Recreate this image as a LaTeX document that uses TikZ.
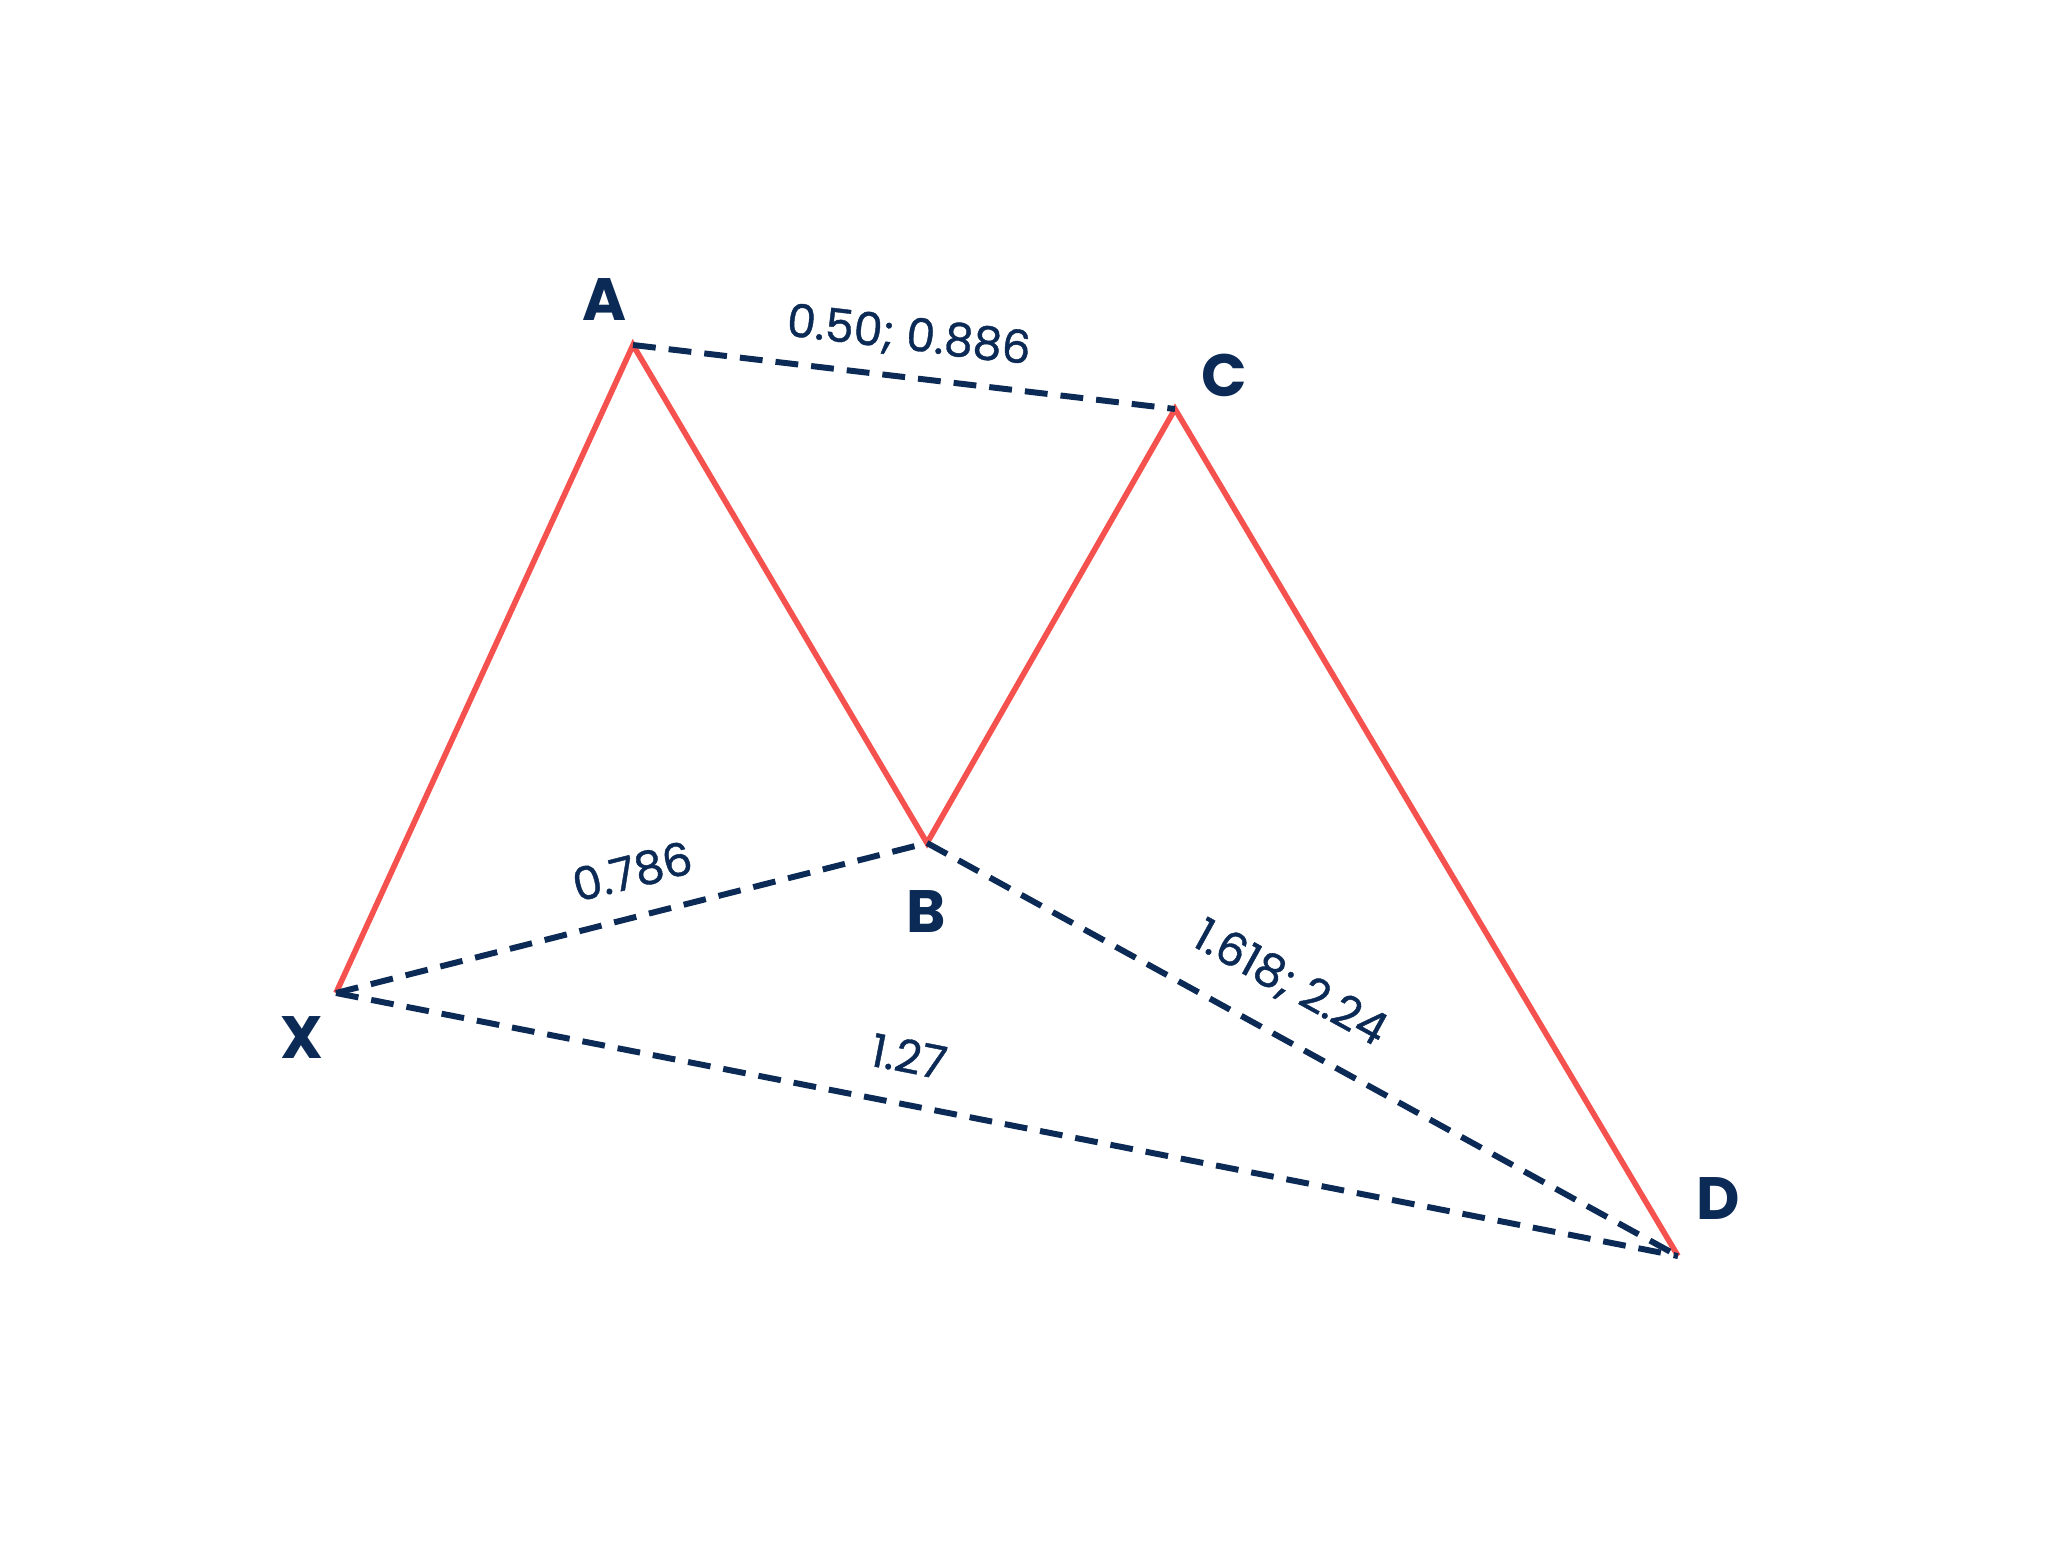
\documentclass[tikz,border=0pt]{standalone}
\usepackage{fontspec}
\setmainfont{Poppins}
\newfontfamily\ratiofont{Poppins}[FakeBold=0.9]
\definecolor{navy}{HTML}{0B2A55}
\definecolor{salmon}{HTML}{F5524F}
\begin{document}
\begin{tikzpicture}[x=0.01cm, y=-0.01cm,
  leg/.style={draw=salmon, line width=1.6pt, line join=miter},
  ratio/.style={draw=navy, line width=1.7pt, dash pattern=on 6.5pt off 3.7pt},
  ptlabel/.style={text=navy, font=\fontsize{17}{20}\selectfont\bfseries, inner sep=0pt},
  fib/.style={text=navy, font=\ratiofont\fontsize{13}{15}\selectfont, sloped, inner sep=2pt}]
\useasboundingbox (0,0) rectangle (2048,1552);
\coordinate (X) at (336,993);
\coordinate (A) at (633,345);
\coordinate (B) at (927,843);
\coordinate (C) at (1175,409);
\coordinate (D) at (1678,1256);
\draw[leg](X)--(A)--(B)--(C)--(D);
\draw[ratio](A)--(C)node[fib, pos=0.5, above=3pt](ac){0.50; 0.886};
\draw[ratio](X)--(B)node[fib, pos=0.52, above=5pt](xb){0.786};
\draw[ratio](B)--(D)node[fib, pos=0.45, above=6pt](bd){1.618; 2.24};
\draw[ratio](X)--(D)node[fib, pos=0.42, above=6pt](xd){1.27};
\node[ptlabel](labX) at (302,1038){X};
\node[ptlabel](labA) at (605,300){A};
\node[ptlabel](labB) at (926,912){B};
\node[ptlabel](labC) at (1224,375){C};
\node[ptlabel](labD) at (1718,1199){D};
\end{tikzpicture}
\end{document}
